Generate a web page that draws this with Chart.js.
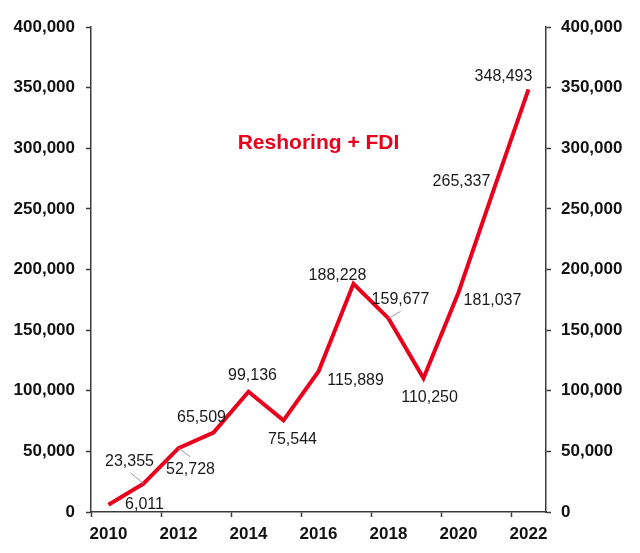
<!DOCTYPE html>
<html>
<head>
<meta charset="utf-8">
<script src="https://cdn.jsdelivr.net/npm/chart.js@4.4.0/dist/chart.umd.min.js"></script>
<style>
  html, body { margin: 0; padding: 0; background: #fff; }
</style>
</head>
<body>
<canvas id="chart" width="640" height="553"></canvas>
<script>
const years = ["2010", "2011", "2012", "2013", "2014", "2015", "2016",
               "2017", "2018", "2019", "2020", "2021", "2022"];
const reshoringFdi = [6011, 23355, 52728, 65509, 99136, 75544, 115889,
                      188228, 159677, 110250, 181037, 265337, 348493];
const yTicks = [0, 50000, 100000, 150000, 200000, 250000, 300000, 350000, 400000];
const seriesTitle = "Reshoring + FDI";

const RED = "#e8001c";
const AXIS = "#3a3a3a";
const FONT = "'Liberation Sans', Arial, sans-serif";

// where each value label sits relative to its point (label centre), plus optional leader line
const labelPlacement = [
  { dx: 36, dy: 0 },
  { dx: -14, dy: -22, leader: [-13, -11] },
  { dx: 12, dy: 22, leader: [12, 9] },
  { dx: -12, dy: -15 },
  { dx: 4, dy: -16 },
  { dx: 9, dy: 19 },
  { dx: 37, dy: 9 },
  { dx: -16, dy: -8 },
  { dx: 12, dy: -19, leader: [12, -7] },
  { dx: 6, dy: 19 },
  { dx: 34, dy: 8 },
  { dx: -32, dy: -9 },
  { dx: -25, dy: -13 }
];

const fmt = (v) => Number(v).toLocaleString("en-US");

const valueLabels = {
  id: "valueLabels",
  afterDatasetsDraw(chart) {
    const ctx = chart.ctx;
    const meta = chart.getDatasetMeta(0);
    ctx.save();
    meta.data.forEach((pt, i) => {
      const p = labelPlacement[i];
      if (p.leader) {
        ctx.strokeStyle = "#9a9a9a";
        ctx.lineWidth = 1;
        ctx.beginPath();
        ctx.moveTo(pt.x, pt.y);
        ctx.lineTo(pt.x + p.leader[0], pt.y + p.leader[1]);
        ctx.stroke();
      }
      ctx.fillStyle = "#1a1a1a";
      ctx.font = `16px ${FONT}`;
      ctx.textAlign = "center";
      ctx.textBaseline = "middle";
      ctx.fillText(fmt(reshoringFdi[i]), pt.x + p.dx, pt.y + p.dy);
    });

    // series name inside the plot
    const area = chart.chartArea;
    ctx.fillStyle = RED;
    ctx.font = `bold 21px ${FONT}`;
    ctx.textAlign = "center";
    ctx.textBaseline = "middle";
    ctx.fillText(seriesTitle, area.left + (area.right - area.left) * 0.5, 143);
    ctx.restore();
  }
};

const yAxis = (position, width, padding) => ({
  type: "linear",
  position,
  min: 0,
  max: 400000,
  afterBuildTicks: (axis) => { axis.ticks = yTicks.map((v) => ({ value: v })); },
  afterFit: (axis) => { axis.width = width; },
  border: { color: AXIS, width: 1.5 },
  grid: { drawOnChartArea: false, color: AXIS, tickLength: 5, tickWidth: 1.5 },
  ticks: {
    padding,
    color: "#111",
    font: { family: FONT, size: 17, weight: "bold" },
    callback: (v) => fmt(v)
  }
});

new Chart(document.getElementById("chart"), {
  type: "line",
  data: {
    labels: years,
    datasets: [{
      label: seriesTitle,
      data: reshoringFdi,
      borderColor: RED,
      borderWidth: 4,
      borderJoinStyle: "miter",
      tension: 0,
      pointRadius: 0,
      yAxisID: "y"
    }]
  },
  options: {
    responsive: false,
    animation: false,
    devicePixelRatio: 1,
    layout: { padding: { top: 27, left: 0, right: 0, bottom: 0 } },
    plugins: { legend: { display: false }, tooltip: { enabled: false } },
    scales: {
      x: {
        type: "category",
        offset: true,
        afterFit: (axis) => { axis.height = 41; },
        border: { color: AXIS, width: 1.5 },
        grid: {
          offset: true,
          drawOnChartArea: false,
          tickLength: 5,
          tickWidth: 1.5,
          tickColor: (c) => (c.index % 2 === 0 ? AXIS : "rgba(0,0,0,0)")
        },
        ticks: {
          autoSkip: false,
          maxRotation: 0,
          padding: 7,
          color: "#111",
          font: { family: FONT, size: 17, weight: "bold" },
          callback: (v, i) => (i % 2 === 0 ? years[i] : "")
        }
      },
      y: yAxis("left", 91, 11),
      y2: yAxis("right", 94, 10)
    }
  },
  plugins: [valueLabels]
});
</script>
</body>
</html>
